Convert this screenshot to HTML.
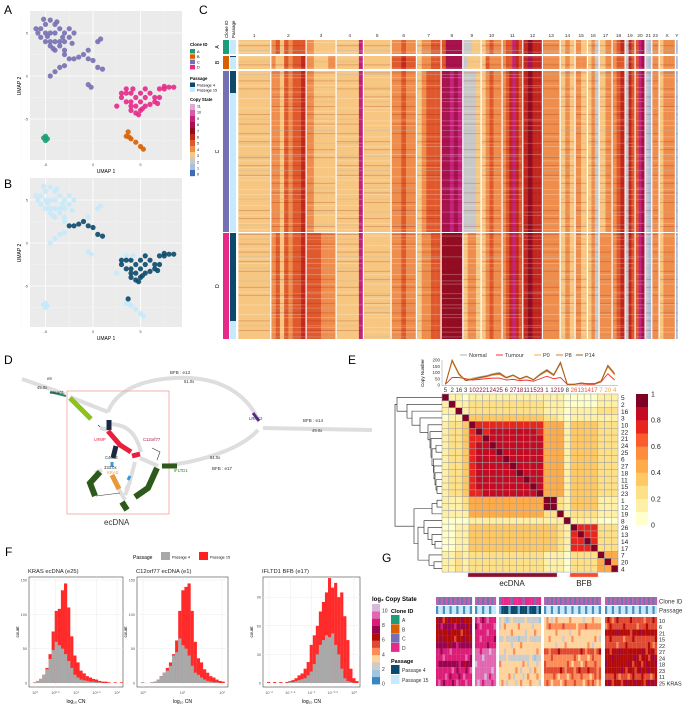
<!DOCTYPE html>
<html><head><meta charset="utf-8"><style>
html,body{margin:0;padding:0;background:#fff;}
svg{display:block;font-family:"Liberation Sans",sans-serif;}
</style></head><body>
<svg id="fig" width="685" height="707" viewBox="0 0 685 707" xmlns="http://www.w3.org/2000/svg">
<g font-size="12">
<text x="4" y="14">A</text>
<text x="4" y="188">B</text>
<text x="199" y="14">C</text>
<text x="4" y="364">D</text>
<text x="348" y="364">E</text>
<text x="5" y="556">F</text>
<text x="382" y="562">G</text>
</g>
<g id="panelD" fill="none" stroke-linecap="butt">
<path d="M22,379 L65,394 M70,397 L108,412" stroke="#dedede" stroke-width="4"/>
<path d="M108,412 C120,380 170,375 200,379 C235,384 252,405 258,420" stroke="#dedede" stroke-width="4"/>
<path d="M263,428 L372,430" stroke="#dedede" stroke-width="4"/>
<path d="M162,466 C200,462 240,450 258,430" stroke="#dedede" stroke-width="4"/>
<path d="M111,424 C125,425 135,430 141,452 M100,428 L108,430" stroke="#dedede" stroke-width="4"/>
<path d="M140,458 L158,466 M135,462 C130,480 128,490 125,495 M102,470 L95,473 M118,488 L125,500 M130,482 L126,490" stroke="#dedede" stroke-width="4"/>
<rect x="67" y="391" width="102" height="123" stroke="#f4a0a0" stroke-width="0.8"/>
<path d="M50,392 L66,396" stroke="#2a8a6a" stroke-width="2"/>
<path d="M70,398 L91,419" stroke="#8cc21e" stroke-width="5"/>
<path d="M109,420 L109,430" stroke="#1b2a44" stroke-width="5"/>
<path d="M108,431 L120,445 L131,452" stroke="#e8203c" stroke-width="5"/>
<path d="M116,446 L113,458" stroke="#1b2a44" stroke-width="5"/>
<path d="M132,456 L140,454" stroke="#e8203c" stroke-width="5"/>
<path d="M100,472 L90,483 L95,496" stroke="#2d5a1b" stroke-width="6"/>
<path d="M157,468 L148,488 L135,497" stroke="#2d5a1b" stroke-width="6"/>
<path d="M122,502 L127,510" stroke="#2d5a1b" stroke-width="6"/>
<path d="M162,466 L177,466" stroke="#2d5a1b" stroke-width="5"/>
<path d="M112,475 L119,489" stroke="#e89a3a" stroke-width="5"/>
<path d="M112,462 L112,467 M128,480 L130,476" stroke="#3a9ad8" stroke-width="3"/>
<path d="M253,413 L259,421" stroke="#5a2a8a" stroke-width="3"/>
<path d="M96,496 L120,493 M100,427 L98,425 M152,448 L160,452 L157,460" stroke="#333" stroke-width="0.6"/>
<g fill="#333" stroke="none" font-size="4.2">
<text x="47" y="380">e8</text><text x="37" y="389">45.0x</text><text x="50" y="394">e8ea01</text>
<text x="170" y="374" font-size="4.5">BFB : e13</text><text x="184" y="383">51.0x</text>
<text x="249" y="420" fill="#4a2a7a">LRRK2</text>
<text x="303" y="422" font-size="4.5">BFB : e14</text><text x="312" y="432">49.0x</text>
<text x="94" y="441" fill="#e8203c">LRMP</text><text x="143" y="441" fill="#a01850">C12orf77</text>
<text x="105" y="459">C4orf3</text><text x="104" y="469">333.0x</text><text x="107" y="474" fill="#e89a3a">KRAS</text>
<text x="174" y="472" fill="#2d7a1b">IFLTD1</text><text x="210" y="459">61.0x</text><text x="212" y="470" font-size="4.5">BFB : e17</text>
<text x="104" y="525" font-size="8">ecDNA</text>
</g>
</g>
<g id="root"></g>
</svg>
<script>
const umapX=[-5.5,-5,-4.5,-4,-3.5,-5,-4.5,-4,-3,-2.5,-5.5,-5,-4.5,-4,-3.5,-3,-2.5,-2,-4.5,-4,-3.5,-3,-3,-2.5,-2,-1.5,-1,-0.5,0,0.5,1,-0.5,0.5,0.8,-4.5,-4,-3.5,-3,-0.5,-0.2,-5.8,-6,-3.8,-4.2,-5.2,-4.8,-3.2,-2.2,
 3,3.5,3.5,3.5,4,4,4,4,4.5,4.5,4.5,5,5,5,5.5,5.5,5.5,6,6.5,6.5,7,7,7.5,7.5,8,8.5,6,2.5,4.2,3,6.8,4.8,5.2,
 -5.2,-5,-4.8,-5,
 3.5,4,4.5,5,5.3,3.8,3.7];
const umapY=[5.5,6,6.5,6,5.5,5,5,5,5,4.5,4.5,4,4,4,4,4,5.5,5,3.5,3,3.5,3,2.5,2,2,2.2,2.5,2,1.8,1,0.8,3,4,4.3,0,0.5,1,1.2,-1,-1.3,5,5.5,6.3,3.2,6.6,4.6,4.5,3.8,
 -2.5,-1.5,-2,-3,-2,-3,-3.5,-4,-2.5,-3.5,-4.3,-2,-3,-4,-1.5,-2.5,-3.5,-2,-2.5,-3,-1.5,-2.5,-1.5,-1.2,-1.3,-1.3,-3.3,-3.5,-1.5,-2,-3.2,-4.5,-3.8,
 -7.2,-7,-7.3,-7.5,
 -7,-7.3,-7.7,-8.2,-8.5,-7.1,-6.5];
const umapClone=[..."CCCCCCCCCCCCCCCCCCCCCCCCCCCCCCCCCCCCCCCCCCCCCCCC","DDDDDDDDDDDDDDDDDDDDDDDDDDDDDDDDD","AAAA","BBBBBBB"].join("").split("");
const umapPassage=("LLLLLLLLLLLLLLLLLLLLLLLDDDDDDDDLLLLLLLLLLLLLLLLL"+"DLDDDDDDDDDDDDDDDDDDDDDDDDDLLDDDD"+"LLLL"+"LLLLLLD").split("");
const umapTicks=[-5,0,5];

const chromNames=["1","2","3","4","5","6","7","8","9","10","11","12","13","14","15","16","17","18","19","20","21","22","X","Y"];
const chromStart=[0,33,68.3,98.3,125.6,153.3,178.6,203.3,225,243.3,264.3,285,304.6,322.3,337.3,349.6,361.3,374.3,387.3,397.3,407.3,414,421.3,437.6,440.6];
const cnA=["3333","45354555","4333","3333339","33333","44544","34455","58888","2233","34544","455965","6766","444","343","43","342","34","456","265","598","21","4","3444","1"];
const cnB=["3333","43354556","4334","3333339","33333","55655","34455","58888","2333","35444","455965","6866","444","343","44","342","34","455","265","598","21","4","3444","1"];
const cnC=["3333","44354556","4333","3333339","33333","44544","34555","88989","2223","34544","456965","6766","444","343","43","342","34","456","265","598","21","4","3444","1"];
const cnD=["3333","45354556","5544","3333339","33333","44544","34455","77777","3443","34544","456965","6766","444","343","43","342","44","456","265","598","21","4","3444","1"];
const cloneRowsY=[[40,54],[56,69],[71,232],[233,339]];
const cloneNames=["A","B","C","D"];
const csTicks=["11","10","9","8","7","6","5","4","3","2","1","0"];
// row texture pattern for panel C (0 none, 1 lighter, 2 gray, 3 darker)
const rowTexture=[0,1,0,3,0,0,2,1,0,3,1,0,0,2,0,3,0,1,0,0,3,2,0,1,0,3,0,0,1,2,3,0,1,0,0,3,1,0,2,0,0,3,1];

const corrLabels=["5","2","16","3","10","22","21","24","25","6","27","18","11","15","23","1","12","19","8","26","13","14","17","7","20","4"];
const corrGroup=[0,1,2,3,4,4,4,4,4,4,4,4,4,4,4,5,5,6,7,8,8,8,8,9,9,9];
const corrWeight=[1,1,1,1,0.86,0.92,0.96,1,1,1,1,1,1,0.97,0.95,1,1,1,1,1,1,1,1,1,1,1];
const groupCorr=[
 [1,.12,.15,.1,.2,.15,.15,.1,.1,.15],
 [.12,1,.12,.15,.25,.2,.15,.1,.1,.2],
 [.15,.12,1,.2,.3,.2,.15,.1,.15,.3],
 [.1,.15,.2,1,.35,.25,.2,.1,.2,.2],
 [.2,.25,.3,.35,.9,.5,.48,.2,.4,.3],
 [.15,.2,.2,.25,.5,1,.25,.2,.35,.2],
 [.15,.15,.15,.2,.48,.25,1,.15,.25,.15],
 [.1,.1,.1,.1,.2,.2,.15,1,.15,.1],
 [.1,.1,.15,.2,.4,.35,.25,.15,.75,.3],
 [.15,.2,.3,.2,.3,.2,.15,.1,.3,.45]];
const labelColor=["#333","#333","#333","#333","#8a1030","#8a1030","#8a1030","#8a1030","#8a1030","#8a1030","#8a1030","#8a1030","#8a1030","#8a1030","#8a1030","#8a1030","#8a1030","#8a1030","#333","#f05030","#f05030","#f05030","#f05030","#f5a040","#f5a040","#f5a040"];
const cnNormal=[5,195,85,40,55,65,75,90,100,62,80,52,72,45,90,125,85,185,5,5,15,10,10,35,160,95];
const cnTumour=[5,60,60,50,40,45,50,55,55,40,45,35,40,30,50,70,50,60,5,5,10,5,5,25,90,40];
const cnP0=[5,190,80,35,50,60,65,80,90,58,78,48,68,42,82,115,78,170,5,5,15,10,10,30,145,80];
const cnP8=[5,195,85,35,45,55,65,80,85,55,75,45,65,40,80,110,75,175,5,5,15,10,10,30,150,85];
const cnP14=[5,200,90,35,45,60,70,85,95,60,80,50,70,40,85,120,80,180,5,5,15,10,10,30,155,90];
const cnTicks=[0,50,100,150,200];
const corrTicks=[0,0.2,0.4,0.6,0.8,1];

const h1Red=[1,3,6,12,22,42,75,105,108,135,145,110,68,40,30,18,14,10,8,6,5,3,2,2,1,0,1,0,1];
const h1Gray=[1,3,6,12,20,35,48,60,55,50,42,32,22,12,8,5,4,3,2,2,1,1,0,0,0,0,0,0,0];
const h2Red=[1,0,0,1,2,5,10,15,22,30,42,62,105,135,140,145,105,60,36,30,20,15,10,8,5,3,2];
const h2Gray=[1,0,0,1,2,5,10,15,18,25,40,45,65,55,50,40,25,15,12,8,5,3,2,1,1,0,0];
const h3Red=[1,0,1,0,1,0,1,2,3,5,8,10,15,22,40,50,60,75,85,95,110,100,105,90,95,70,45,15,5,2];
const h3Gray=[0,0,0,0,0,0,0,1,1,2,3,4,5,8,12,20,30,40,45,50,48,52,40,30,15,5,2,1,0,0];
const h1Ticks=[0,50,100,150], h3Ticks=[0,30,60,90];

const gRowLabels=["10","6","21","15","22","27","24","18","23","11","25 KRAS"];
const gBlockCols=[16,9,18,25,23];
const gBlockRows=[
 [6,7,6,6,7,8,8,7,8,8,8],
 [8,8,8,8,8,9,9,9,9,9,9],
 [2,3,3,2,3,3,2,3,3,3,3],
 [3,4,3,3,3,5,4,4,5,4,4],
 [5,5,6,5,5,6,6,6,6,5,6]];
const gColPattern=[0,1,0,-1,0,1,1,0,-1,0,0,1,-1,0,1,0,0,-1,1,0,0,1,-1,0,1];
const gLegendTicks=[0,2,4,6,8,10];

const NS="http://www.w3.org/2000/svg";
const root=document.getElementById('root');
function mk(tag,attrs,parent){const e=document.createElementNS(NS,tag);for(const k in attrs)e.setAttribute(k,attrs[k]);(parent||root).appendChild(e);return e;}
function txt(x,y,s,attrs,parent){const t=mk('text',Object.assign({x:x,y:y},attrs||{}),parent);t.textContent=s;return t;}
const cloneCol={A:"#1b9e77",B:"#d95f02",C:"#7570b3",D:"#e7298a"};
const passDark="#0b4a6b", passLight="#c6e9fb";
const csColors=["#3a6db5","#a9bfdc","#c8c8c8","#f7c680","#ef8d4c","#e0592d","#c2281f","#930d22","#a8124e","#c6237e","#d65ba9","#dcaad8"];

function umapPanel(top,mode,name){
 const g=mk('g',{});
 
 
 const L=30,R=182,T=top,B=top+149;
 const sx=u=>93+u*9.5, sy=v=>top+65-v*8.6;
 mk('rect',{x:L,y:T,width:R-L,height:B-T,fill:"#ebebeb"},g);
 [-7.5,-2.5,2.5,7.5].forEach(u=>mk('line',{x1:sx(u),x2:sx(u),y1:T,y2:B,stroke:"#f5f5f5","stroke-width":0.4},g));
 [-7.5,-2.5,2.5].forEach(v=>mk('line',{y1:sy(v),y2:sy(v),x1:L,x2:R,stroke:"#f5f5f5","stroke-width":0.4},g));
 umapTicks.forEach(u=>{mk('line',{x1:sx(u),x2:sx(u),y1:T,y2:B,stroke:"#fff","stroke-width":0.8},g);txt(sx(u),B+6,String(u),{"font-size":4,"text-anchor":"middle",fill:"#555"},g);});
 umapTicks.forEach(v=>{mk('line',{y1:sy(v),y2:sy(v),x1:L,x2:R,stroke:"#fff","stroke-width":0.8},g);txt(L-2,sy(v)+1.5,String(v),{"font-size":4,"text-anchor":"end",fill:"#555"},g);});
 txt(106,B+13,"UMAP 1",{"font-size":5,"text-anchor":"middle"},g);
 txt(0,0,"UMAP 2",{"font-size":5,"text-anchor":"middle",transform:`translate(21,${T+75}) rotate(-90)`},g);
 for(let i=0;i<umapX.length;i++){
  const c=mode==='clone'?cloneCol[umapClone[i]]:(umapPassage[i]==='D'?passDark:passLight);
  const p=mk('circle',{cx:sx(umapX[i]),cy:sy(umapY[i]),r:2.6,fill:c,opacity:0.9},g);
  
  
 }
}
umapPanel(11,'clone','umap-by-clone');
umapPanel(178,'passage','umap-by-passage');

(function(){
 const g=mk('g',{});
 
 
 const X0=237.7;
 const sets=[cnA,cnB,cnC,cnD];
 mk('rect',{x:X0,y:40,width:441,height:299,fill:"#fff"},g);
 sets.forEach((set,ci)=>{
  const [y0,y1]=cloneRowsY[ci];
  chromNames.forEach((ch,k)=>{
   const xs=X0+chromStart[k]+0.7, xe=X0+chromStart[k+1]-0.7, segs=set[k];
   const w=(xe-xs)/segs.length;
   for(let s=0;s<segs.length;s++){
    const r=mk('rect',{x:xs+s*w,y:y0,width:w+0.2,height:y1-y0,fill:csColors[+segs[s]]},g);
    
    
   }
  });
  const cc=mk('rect',{x:223,y:y0,width:6,height:y1-y0,fill:cloneCol[cloneNames[ci]]},g);
  
  
  txt(0,0,cloneNames[ci],{"font-size":5,"text-anchor":"middle",transform:`translate(219,${(y0+y1)/2}) rotate(-90)`},g);
 });
 // row texture
 const texCol=[null,"#ffffff","#b8b8b8","#7a0a10"], texOp=[0,0.3,0.45,0.25];
 let ti=0;
 for(let y=40.5;y<339;y+=1.6){
  const t=rowTexture[ti%rowTexture.length];ti++;
  if(!t)continue;
  if((y>54&&y<56)||(y>69&&y<71)||(y>232&&y<233))continue;
  for(let k=0;k<24;k++){
   const xs=X0+chromStart[k]+0.7, xe=X0+chromStart[k+1]-0.7;
   if((k+ti)%3===0)continue;
   mk('rect',{x:xs,y:y,width:xe-xs,height:0.8,fill:texCol[t],opacity:texOp[t]},g);
  }
 }
 [[40,54,passLight],[56,57,passDark],[57,69,passLight],[71,93,passDark],[93,232,passLight],[233,321,passDark],[321,339,passLight]].forEach(p=>mk('rect',{x:230,y:p[0],width:6,height:p[1]-p[0],fill:p[2]},g));
 chromNames.forEach((ch,k)=>txt(X0+(chromStart[k]+chromStart[k+1])/2,37,ch,{"font-size":4.8,"text-anchor":"middle",fill:"#333"},g));
 txt(0,0,"Clone ID",{"font-size":4.5,transform:"translate(228,38) rotate(-90)"},g);
 txt(0,0,"Passage",{"font-size":4.5,transform:"translate(235,38) rotate(-90)"},g);
 txt(190,46,"Clone ID",{"font-size":4.3,"font-weight":"bold"},g);
 cloneNames.forEach((c,i)=>{mk('rect',{x:190,y:49+i*5.3,width:5,height:4.5,fill:cloneCol[c]},g);txt(197,52.8+i*5.3,c,{"font-size":3.8},g);});
 txt(190,80,"Passage",{"font-size":4.3,"font-weight":"bold"},g);
 mk('rect',{x:190,y:82.5,width:5,height:4.5,fill:passDark},g);txt(197,86.3,"Passage 4",{"font-size":3.8},g);
 mk('rect',{x:190,y:87.5,width:5,height:4.5,fill:passLight},g);txt(197,91.3,"Passage 15",{"font-size":3.8},g);
 txt(190,101,"Copy State",{"font-size":4.3,"font-weight":"bold"},g);
 csTicks.forEach((t,i)=>{const c=csColors[11-i];mk('rect',{x:190,y:104+i*6,width:5,height:6.2,fill:c},g);txt(197,107.5+i*6.2,t,{"font-size":3.6},g);});
})();

(function(){
 const g=mk('g',{});
 
 
 const X0=442,Y0=394,cw=6.77,rh=6.85,n=corrLabels.length;
 const cx=i=>X0+i*cw, cy=i=>Y0+i*rh;
 const pal=["#ffffcc","#fff0a8","#fee187","#fec965","#feab49","#fd8d3c","#fc5b2e","#e8261f","#c40b23","#800026"];
 const col=v=>pal[Math.max(0,Math.min(9,Math.floor(v*10-0.0001)))];
 for(let i=0;i<n;i++)for(let j=0;j<n;j++){
  let v=i===j?1:groupCorr[corrGroup[i]][corrGroup[j]]*(corrGroup[i]===corrGroup[j]?corrWeight[i]*corrWeight[j]:1);
  const r=mk('rect',{x:cx(j),y:cy(i),width:cw,height:rh,fill:col(v),stroke:"#a0a0a0","stroke-width":0.5},g);
  
  
 }
 corrLabels.forEach((l,i)=>{
  txt(cx(i)+cw/2,392,l,{"font-size":6,"text-anchor":"middle",fill:labelColor[i]},g);
  txt(621,cy(i)+rh-0.8,l,{"font-size":6.5,fill:"#222"},g);
 });
 for(let k=0;k<10;k++)mk('rect',{x:636,y:394+(9-k)*13.1,width:12,height:13.3,fill:pal[k]},g);
 corrTicks.forEach(t=>txt(651,525-t*131+2.5,String(t),{"font-size":7,fill:"#222"},g));
 const dg=mk('g',{stroke:"#222","stroke-width":0.6,fill:"none"},g);
 
 
 const leaf=i=>({x:X0,y:cy(i)+rh/2});
 function m(a,b,x){mk('path',{d:`M${a.x},${a.y}H${x}V${b.y}H${b.x}`},dg);return {x:x,y:(a.y+b.y)/2};}
 let t=m(leaf(13),leaf(14),437);t=m(leaf(12),t,436);t=m(leaf(11),t,435);t=m(leaf(10),t,434);t=m(leaf(9),t,433.5);
 let u=m(leaf(7),leaf(8),436);t=m(u,t,432);t=m(leaf(6),t,431);t=m(leaf(5),t,430);t=m(leaf(4),t,428);
 t=m(leaf(3),t,420);t=m(leaf(2),t,412);t=m(leaf(1),t,407);t=m(leaf(0),t,397);
 let b=m(leaf(15),leaf(16),437);b=m(b,leaf(17),432);
 let c=m(leaf(21),leaf(22),435);c=m(leaf(20),c,432);c=m(leaf(19),c,428);c=m(leaf(18),c,424);
 let d=m(leaf(24),leaf(25),434);d=m(leaf(23),d,429);
 c=m(c,d,418);b=m(b,c,414);
 m(t,b,395);
 const ly=v=>385-v/200*25, lx=i=>cx(i)+cw/2;
 mk('line',{x1:X0,x2:618,y1:385.5,y2:385.5,stroke:"#999","stroke-width":0.5},g);
 mk('line',{x1:X0,x2:X0,y1:360,y2:386,stroke:"#999","stroke-width":0.5},g);
 cnTicks.forEach(v=>txt(440,ly(v)+1.6,String(v),{"font-size":4.5,"text-anchor":"end",fill:"#333"},g));
 txt(0,0,"Copy Number",{"font-size":4.5,"text-anchor":"middle",transform:"translate(424,373) rotate(-90)"},g);
 const series=[[cnNormal,"#b0b0b0","Normal",460],[cnTumour,"#f03030","Tumour",496],[cnP0,"#f5b040","P0",534],[cnP8,"#e07a30","P8",556],[cnP14,"#a0601a","P14",576]];
 series.forEach(s=>{
  const p=mk('polyline',{points:s[0].map((v,i)=>lx(i)+","+ly(v)).join(" "),fill:"none",stroke:s[1],"stroke-width":0.9},g);
  
  
  mk('line',{x1:s[3],x2:s[3]+7,y1:355,y2:355,stroke:s[1],"stroke-width":1},g);
  txt(s[3]+9,357,s[2],{"font-size":5.5,fill:"#333"},g);
 });
 mk('rect',{x:468,y:573,width:89,height:4,fill:"#8a1030",stroke:"#e8a0b0","stroke-width":0.4},g);
 txt(512,586,"ecDNA",{"font-size":8,"text-anchor":"middle",fill:"#222"},g);
 mk('rect',{x:570,y:573,width:28,height:4,fill:"#f05030",stroke:"#f8b0a0","stroke-width":0.4},g);
 txt(584,586,"BFB",{"font-size":8,"text-anchor":"middle",fill:"#222"},g);
})();

(function(){
 const g=mk('g',{});
 
 
 txt(133,559,"Passage",{"font-size":5},g);
 mk('rect',{x:161,y:552,width:9,height:8,fill:"#a8a8a8"},g);txt(172,558.5,"Passage 4",{"font-size":3.8},g);
 mk('rect',{x:199,y:552,width:9,height:8,fill:"#ff2020"},g);txt(210,558.5,"Passage 15",{"font-size":3.8},g);
 const panels=[
  {L:29,R:123,title:"KRAS ecDNA (e25)",red:h1Red,gray:h1Gray,max:150,ticks:h1Ticks,b0:33,bw:3.1,xt:["10⁰","10⁰·⁵","10¹","10¹·⁵","10²"]},
  {L:137,R:228,title:"C12orf77 ecDNA (e1)",red:h2Red,gray:h2Gray,max:150,ticks:h1Ticks,b0:141,bw:3.1,xt:["10⁰","10¹","10²"]},
  {L:263,R:360,title:"IFLTD1 BFB (e17)",red:h3Red,gray:h3Gray,max:108,ticks:h3Ticks,b0:267,bw:3.05,xt:["10⁻²","10⁻¹·⁵","10⁻¹","10⁻⁰·⁵","10⁰"]}];
 panels.forEach((p,pi)=>{
  const T=577,B=687,base=683;
  const sy=v=>base-v/p.max*(base-580);
  mk('rect',{x:p.L,y:T,width:p.R-p.L,height:B-T,fill:"#fff",stroke:"#444","stroke-width":0.6},g);
  p.ticks.forEach(v=>{mk('line',{x1:p.L,x2:p.R,y1:sy(v),y2:sy(v),stroke:"#ebebeb","stroke-width":0.5},g);txt(p.L-2,sy(v)+1.5,String(v),{"font-size":3.8,"text-anchor":"end",fill:"#555"},g);});
  p.xt.forEach((t,i)=>{const x=p.L+6+i*(p.R-p.L-12)/(p.xt.length-1);mk('line',{x1:x,x2:x,y1:T,y2:B,stroke:"#ebebeb","stroke-width":0.5},g);txt(x,694,t,{"font-size":3.8,"text-anchor":"middle",fill:"#555"},g);});
  p.red.forEach((v,i)=>{const r=mk('rect',{x:p.b0+i*p.bw,y:sy(v),width:p.bw+0.1,height:base-sy(v),fill:"#ff2a2a"},g);
   
   });
  p.gray.forEach((v,i)=>{const r=mk('rect',{x:p.b0+i*p.bw,y:sy(v),width:p.bw+0.1,height:base-sy(v),fill:"#a9a9a9"},g);
   
   });
  txt(p.L-1,573,p.title,{"font-size":5.8,fill:"#222"},g);
  txt((p.L+p.R)/2,703,"log₁₀ CN",{"font-size":5,"text-anchor":"middle"},g);
  txt(0,0,"count",{"font-size":4.5,"text-anchor":"middle",transform:`translate(${p.L-10},632) rotate(-90)`},g);
 });
})();

(function(){
 const g=mk('g',{});
 
 
 const gPal=["#3a86c0","#9ec6e0","#cccccc","#fdd49e","#fc8d59","#e04a33","#b30a0a","#98054e","#dd1c77","#e067b0","#d8b9dc"];
 const starts=[436,475,499,544,605], widths=[36,21,42,57,52];
 const T=617,rh=(686-617)/11;
 gBlockRows.forEach((rows,b)=>{
  const nc=gBlockCols[b], cw=widths[b]/nc;
  for(let j=0;j<nc;j++){
   const cl=(b===2)?(j%5===0?"#7570b3":"#e7298a"):(j%2?"#7570b3":"#c060a8");
   mk('rect',{x:starts[b]+j*cw,y:597,width:cw+0.1,height:8,fill:cl},g);
   const pc=(b===2)?(j%4===0?"#6ab0d8":passDark):(j%3===0?"#4a90b8":passLight);
   mk('rect',{x:starts[b]+j*cw,y:606,width:cw+0.1,height:8,fill:pc},g);
   rows.forEach((v,i)=>{
    const vv=Math.max(0,Math.min(10,v+gColPattern[(j+i*3)%gColPattern.length]*((i+j)%2)));
    const r=mk('rect',{x:starts[b]+j*cw,y:T+i*rh,width:cw+0.1,height:rh+0.1,fill:gPal[vv]},g);
    
    
   });
  }
 });
 txt(659,603.5,"Clone ID",{"font-size":6,fill:"#333"},g);
 txt(659,612.5,"Passage",{"font-size":6,fill:"#333"},g);
 gRowLabels.forEach((l,i)=>txt(659,T+i*rh+rh-0.5,l,{"font-size":5.5,fill:"#222"},g));
 txt(372,601,"log₂ Copy State",{"font-size":6,"font-weight":"bold"},g);
 for(let k=0;k<11;k++)mk('rect',{x:372,y:604+(10-k)*7.3,width:8,height:7.4,fill:gPal[k]},g);
 gLegendTicks.forEach(t=>txt(382,683.5-t*7.3+2,String(t),{"font-size":5,fill:"#333"},g));
 txt(391,613,"Clone ID",{"font-size":5.5,"font-weight":"bold"},g);
 cloneNames.forEach((c,i)=>{mk('rect',{x:391,y:615+i*9.3,width:8.5,height:9,fill:cloneCol[c]},g);txt(402,622+i*9.3,c,{"font-size":5,fill:"#333"},g);});
 txt(391,663,"Passage",{"font-size":5.5,"font-weight":"bold"},g);
 mk('rect',{x:391,y:665,width:8.5,height:9,fill:passDark},g);txt(402,672,"Passage 4",{"font-size":5,fill:"#333"},g);
 mk('rect',{x:391,y:675,width:8.5,height:9,fill:passLight},g);txt(402,682,"Passage 15",{"font-size":5,fill:"#333"},g);
})();
</script>
</body></html>
